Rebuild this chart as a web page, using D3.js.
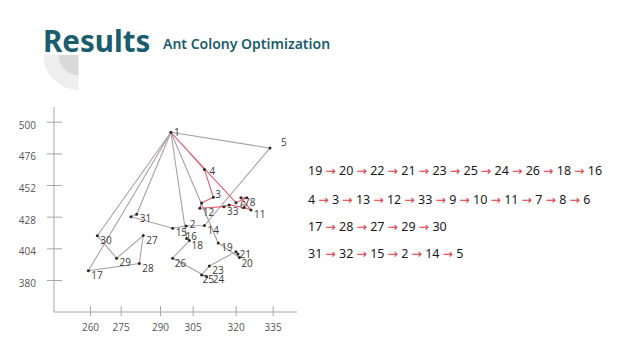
<!DOCTYPE html>
<html>
<head>
<meta charset="utf-8">
<script src="https://cdn.jsdelivr.net/npm/d3@7"></script>
<style>
  body { margin: 0; background: #fff; }
  svg { display: block; }
</style>
</head>
<body>
<script>
// ---- data ----
const xTicks = [260, 275, 290, 305, 320, 335];
const yTicks = [380, 404, 428, 452, 476, 500];

const nodeIds = [1, 2, 3, 4, 5, 6, 7, 8, 9, 10, 11, 12, 13, 14, 15, 16, 17,
                 18, 19, 20, 21, 22, 23, 24, 25, 26, 27, 28, 29, 30, 31, 32, 33];
const nodeX = [295, 302, 312.2, 309.1, 333.9, 320.1, 322.1, 324.5, 317.7, 323.4, 326.2,
               307.5, 308.1, 309.1, 295.8, 302.2, 259.2, 303.5, 313.9, 321.5, 320.1,
               320.9, 310.8, 309.9, 308.1, 295.8, 283.6, 282.1, 273, 263.6, 281.1, 278.9, 315.9];
const nodeY = [492, 421, 442.7, 463.8, 480, 438.6, 442.4, 442.4, 436.9, 435, 433,
               434.4, 438.4, 421.3, 419.2, 411.5, 387, 409.9, 408, 397, 401.5,
               399.7, 390.6, 382.5, 383.8, 396.5, 413.7, 392.5, 396.5, 413.6, 429.8, 428, 435.6];

// routes leave the depot (1) and come back to it
const routes = [
  [1, 19, 20, 22, 21, 23, 25, 24, 26, 18, 16, 1],
  [1, 4, 3, 13, 12, 33, 9, 10, 11, 7, 8, 6, 1],
  [1, 17, 28, 27, 29, 30, 1],
  [1, 31, 32, 15, 2, 14, 5, 1]
];
const highlighted = 1; // index of the red route

// labels hidden under other marks in the picture
const hiddenLabels = [9, 10, 13, 22, 32];

// label nudges (px) where they differ from the usual lower-right place
const labelNudge = {
  1: [3, 3.5], 2: [3.5, 2.5], 3: [2, 0.5], 4: [5, 5.7], 5: [11, -2.5],
  6: [4, 6.5], 16: [-1, 2], 18: [2, 8], 20: [2, 9], 21: [3.5, 6.5],
  24: [6, 6], 25: [1, 8], 26: [2, 9]
};

// ---- drawing ----
const W = 638, H = 359;
const svg = d3.select("body").append("svg")
  .attr("width", W).attr("height", H);

// header
const teal = "#1b5d6c";
svg.append("path")
  .attr("d", d3.arc()({ innerRadius: 0, outerRadius: 35, startAngle: Math.PI, endAngle: 1.5 * Math.PI }))
  .attr("transform", "translate(78.5,55)")
  .attr("fill", "#eeeeee");
svg.append("path")
  .attr("d", d3.arc()({ innerRadius: 0, outerRadius: 20, startAngle: Math.PI, endAngle: 1.5 * Math.PI }))
  .attr("transform", "translate(78.5,55)")
  .attr("fill", "#d9d9d9");

svg.append("text")
  .attr("x", 43).attr("y", 52)
  .attr("font-family", "'Noto Sans', sans-serif")
  .attr("font-weight", 700)
  .attr("font-size", 29.5)
  .attr("fill", teal)
  .text("Results");
svg.append("text")
  .attr("x", 163).attr("y", 48.5)
  .attr("font-family", "'Noto Sans', sans-serif")
  .attr("font-weight", 600)
  .attr("font-size", 14)
  .attr("fill", teal)
  .text("Ant Colony Optimization");

// chart scales: the tick spacing in the picture is uneven, so the x scale is piecewise
const x = d3.scaleLinear().domain(xTicks).range([90, 120.7, 160, 192.7, 235.7, 272.7]);
const y = d3.scaleLinear().domain([380, 500]).range([280, 121.7]);

const axisColor = "#a6a6a6";
const plot = svg.append("g");

// frame lines
plot.append("line").attr("x1", 54).attr("x2", 54).attr("y1", 107).attr("y2", 312)
  .attr("stroke", axisColor);
plot.append("line").attr("x1", 54).attr("x2", 297).attr("y1", 312).attr("y2", 312)
  .attr("stroke", axisColor);

const xAxis = plot.append("g")
  .attr("transform", "translate(0,312)")
  .call(d3.axisBottom(x).tickValues(xTicks).tickSize(4).tickPadding(8));
xAxis.select(".domain").remove();
xAxis.selectAll(".tick line").attr("y1", -6).attr("y2", 4).attr("stroke", axisColor);
xAxis.selectAll(".tick text")
  .attr("font-family", "'Open Sans', sans-serif").attr("font-size", 10).attr("fill", "#555");

const yAxis = plot.append("g")
  .attr("transform", "translate(54,0)")
  .call(d3.axisLeft(y).tickValues(yTicks).tickSize(7).tickPadding(11));
yAxis.select(".domain").remove();
yAxis.selectAll(".tick line").attr("x1", 8).attr("x2", -7).attr("stroke", axisColor);
yAxis.selectAll(".tick text")
  .attr("dy", "0.65em")
  .attr("font-family", "'Open Sans', sans-serif").attr("font-size", 10).attr("fill", "#555");

const nodes = nodeIds.map((id, i) => ({ id, vx: nodeX[i], vy: nodeY[i] }));
const byId = new Map(nodes.map(n => [n.id, n]));

const line = d3.line().x(d => x(byId.get(d).vx)).y(d => y(byId.get(d).vy));
const routeOrder = routes.map((r, i) => i).sort((a, b) => (a === highlighted) - (b === highlighted));

plot.append("g").selectAll("path")
  .data(routeOrder)
  .join("path")
  .attr("d", i => line(routes[i]))
  .attr("fill", "none")
  .attr("stroke", i => i === highlighted ? "#df5f6e" : "#a9a1a3")
  .attr("stroke-width", 1.1);

plot.append("g").selectAll("circle")
  .data(nodes)
  .join("circle")
  .attr("cx", d => x(d.vx))
  .attr("cy", d => y(d.vy))
  .attr("r", 1.5)
  .attr("fill", "#2a2a2a");

plot.append("g").selectAll("text")
  .data(nodes.filter(d => !hiddenLabels.includes(d.id)))
  .join("text")
  .attr("x", d => x(d.vx) + (labelNudge[d.id] ? labelNudge[d.id][0] : 3))
  .attr("y", d => y(d.vy) + (labelNudge[d.id] ? labelNudge[d.id][1] : 8))
  .attr("font-family", "'Open Sans', sans-serif")
  .attr("font-size", 10)
  .attr("fill", "#3a3a3a")
  .text(d => d.id);

// route list on the right
const rowBase = [175, 203.5, 231, 258];
const list = svg.append("g");
routes.forEach((route, row) => {
  const stops = route.slice(1, -1);
  const t = list.append("text")
    .attr("y", rowBase[row])
    .attr("font-family", "'Noto Sans', sans-serif")
    .attr("font-size", 12.5)
    .attr("fill", "#1a1a1a");
  let cx = 308;
  stops.forEach((s, k) => {
    const num = t.append("tspan").attr("x", cx).text(s);
    cx += num.node().getComputedTextLength() + 3;
    if (k < stops.length - 1) {
      const arr = t.append("tspan").attr("x", cx)
        .attr("font-family", "'DejaVu Sans', sans-serif")
        .attr("font-size", 12.5)
        .attr("fill", "#e63946")
        .text("\u2192");
      cx += arr.node().getComputedTextLength() + 3.3;
    }
  });
});
</script>
</body>
</html>
